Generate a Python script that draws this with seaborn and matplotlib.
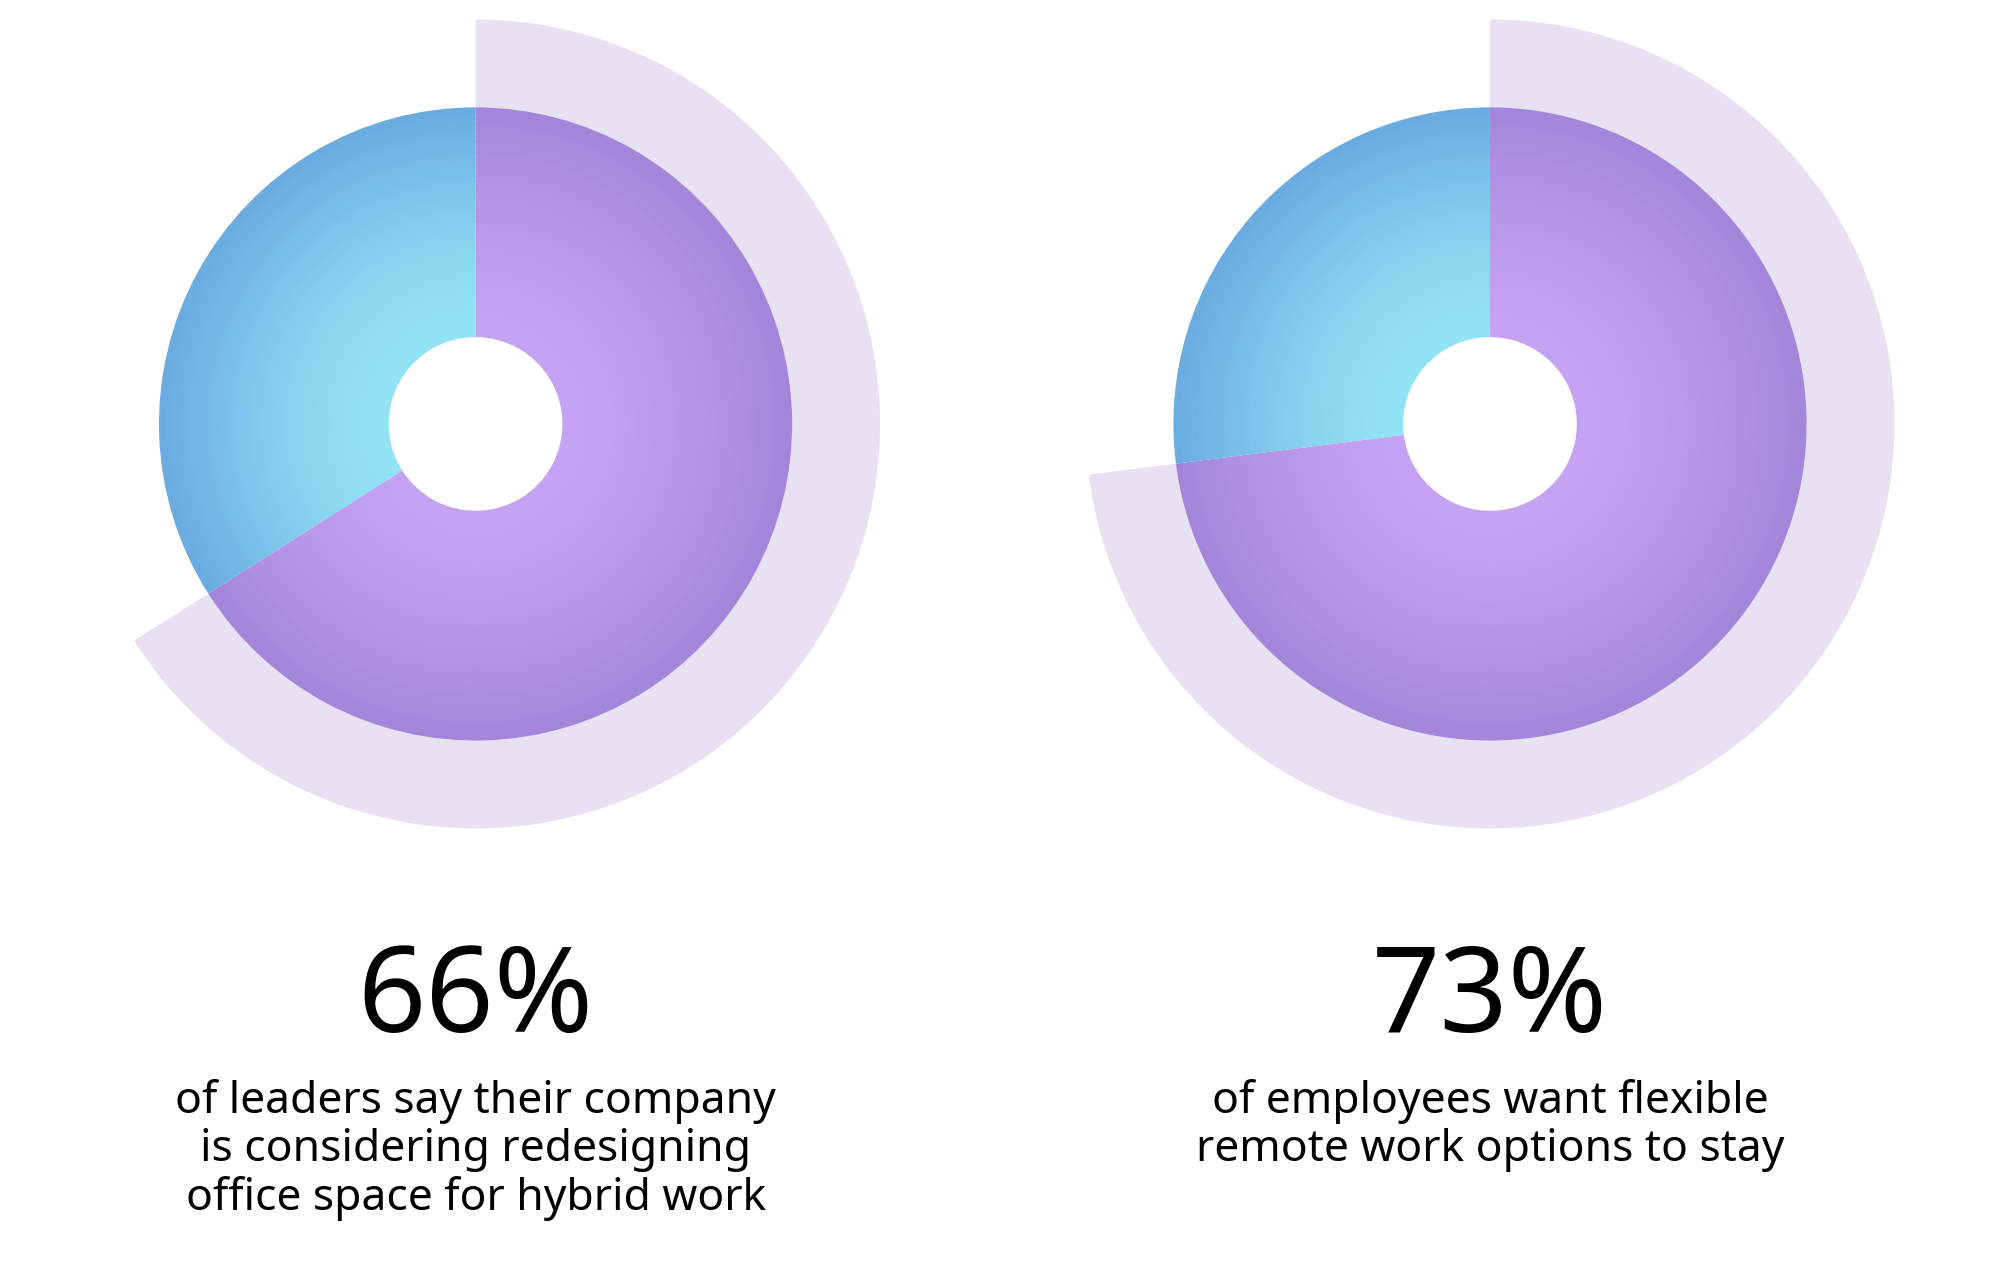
import numpy as np
import matplotlib.pyplot as plt
import seaborn as sns
from matplotlib.patches import Wedge
from matplotlib.colors import to_rgb

sns.set_theme(style="white")
plt.rcParams['font.family'] = ['Noto Sans', 'DejaVu Sans']

# data
shares = [0.66, 0.73]
big_labels = ["66%", "73%"]
captions = [
    "of leaders say their company\nis considering redesigning\noffice space for hybrid work",
    "of employees want flexible\nremote work options to stay",
]
centers_x = [368, 1153]

W, H = 1560, 995
fig = plt.figure(figsize=(20.16, 12.86), dpi=100)
ax = fig.add_axes([0, 0, 1, 1])
ax.set_xlim(0, W)
ax.set_ylim(0, H)
ax.set_aspect('equal')
ax.axis('off')

cy = H - 328
r_hole, r_pie, r_outer = 68, 245, 313

def blend(c1, c2, t):
    a, b = np.array(to_rgb(c1)), np.array(to_rgb(c2))
    return tuple(a + (b - a) * t)

purple_in, purple_out = "#c6a2f2", "#a386da"
blue_in, blue_out = "#93e3f6", "#6aace0"
arc_col = "#e7e1f3"

n = 40
for cx, p in zip(centers_x, shares):
    t1 = 90 - 360 * p
    ax.add_patch(Wedge((cx, cy), r_outer, t1, 90, width=r_outer - r_pie,
                       facecolor=arc_col, edgecolor='none'))
    edges = np.linspace(r_hole, r_pie, n + 1)
    for i in range(n):
        t = (i / (n - 1)) ** 1.4
        rr = edges[i + 1]
        w = edges[i + 1] - edges[i] + 0.8
        ax.add_patch(Wedge((cx, cy), rr, t1, 90, width=w,
                           facecolor=blend(purple_in, purple_out, t), edgecolor='none'))
        ax.add_patch(Wedge((cx, cy), rr, 90, t1 + 360, width=w,
                           facecolor=blend(blue_in, blue_out, t), edgecolor='none'))

for cx, lab, cap in zip(centers_x, big_labels, captions):
    ax.text(cx, H - 775, lab, ha='center', va='center', fontsize=86,
            fontweight='bold', color='black')
    ax.text(cx, H - 835, cap, ha='center', va='top', fontsize=32,
            color='black', linespacing=1.12)

fig.savefig("out.png", dpi=100)
